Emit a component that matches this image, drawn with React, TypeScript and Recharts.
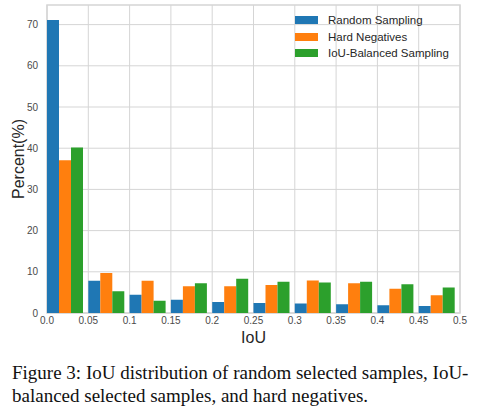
import React from "react";
import {
  BarChart,
  Bar,
  XAxis,
  YAxis,
  CartesianGrid,
  Legend,
  ReferenceArea,
} from "recharts";

// IoU bins (left edge of each 0.05-wide bin)
const binStarts = [0, 0.05, 0.1, 0.15, 0.2, 0.25, 0.3, 0.35, 0.4, 0.45];
const binNames = [
  "0.00-0.05",
  "0.05-0.10",
  "0.10-0.15",
  "0.15-0.20",
  "0.20-0.25",
  "0.25-0.30",
  "0.30-0.35",
  "0.35-0.40",
  "0.40-0.45",
  "0.45-0.50",
];

// percentages per bin
const randomSampling = [71.1, 7.8, 4.4, 3.2, 2.7, 2.4, 2.3, 2.1, 1.9, 1.7];
const hardNegatives = [37.1, 9.7, 7.8, 6.5, 6.5, 6.8, 7.9, 7.2, 5.9, 4.3];
const iouBalanced = [40.2, 5.3, 3.0, 7.2, 8.3, 7.6, 7.4, 7.6, 7.0, 6.2];

const xTicks = [0, 0.05, 0.1, 0.15, 0.2, 0.25, 0.3, 0.35, 0.4, 0.45, 0.5];
const xTickLabels = ["0.0", "0.05", "0.1", "0.15", "0.2", "0.25", "0.3", "0.35", "0.4", "0.45", "0.5"];
const yTicks = [0, 10, 20, 30, 40, 50, 60, 70];
const yMax = 74.76;

const seriesInfo = [
  { key: "random", name: "Random Sampling", color: "#1f77b4" },
  { key: "hard", name: "Hard Negatives", color: "#ff7f0e" },
  { key: "balanced", name: "IoU-Balanced Sampling", color: "#2ca02c" },
];

const data = binNames.map((name, i) => ({
  name,
  x: binStarts[i],
  random: randomSampling[i],
  hard: hardNegatives[i],
  balanced: iouBalanced[i],
}));

const FONT = '"Liberation Sans", Arial, sans-serif';
const GRID = "#d5d5d5";

// legend drawn as plain rows, like matplotlib's
const renderLegend = () => (
  <div style={{ fontFamily: FONT, fontSize: 11.5, color: "#262626" }}>
    {seriesInfo.map((s) => (
      <div
        key={s.key}
        style={{ display: "flex", alignItems: "center", height: 16.6 }}
      >
        <span
          style={{
            display: "inline-block",
            width: 23,
            height: 8,
            background: s.color,
            marginRight: 10,
          }}
        />
        <span>{s.name}</span>
      </div>
    ))}
  </div>
);

export default function App() {
  return (
    <div
      style={{
        position: "absolute",
        left: 0,
        top: 0,
        width: 487,
        height: 415,
        background: "#fff",
      }}
    >
      <BarChart
        width={487}
        height={350}
        data={data}
        margin={{ top: 5, right: 27, left: 17, bottom: 0 }}
        barGap={0}
        barCategoryGap={2.065}
      >
        <CartesianGrid
          xAxisId="iou"
          stroke={GRID}
          strokeWidth={1}
          verticalValues={xTicks}
          horizontalValues={yTicks}
        />
        {/* hidden band axis that places the grouped bars */}
        <XAxis
          xAxisId="bins"
          dataKey="name"
          type="category"
          orientation="top"
          height={0}
          hide
          padding={{ left: -2.065, right: 2.065 }}
        />
        <XAxis
          xAxisId="iou"
          dataKey="x"
          type="number"
          domain={[0, 0.5]}
          ticks={xTicks}
          allowDataOverflow
          height={37}
          axisLine={false}
          tickLine={false}
          tickSize={0}
          tickMargin={4}
          interval={0}
          tick={{ fill: "#4a4a4a", fontSize: 10, fontFamily: FONT }}
          tickFormatter={(v: number) => xTickLabels[xTicks.indexOf(v)] ?? String(v)}
          label={{
            content: ({ viewBox }: any) => (
              <text
                x={viewBox.x + viewBox.width / 2}
                y={343}
                textAnchor="middle"
                fontSize={16}
                fontFamily={FONT}
                fill="#262626"
              >
                IoU
              </text>
            ),
          }}
        />
        <YAxis
          width={30}
          domain={[0, yMax]}
          ticks={yTicks}
          allowDataOverflow
          axisLine={false}
          tickLine={false}
          tickSize={0}
          tickMargin={9}
          tick={{ fill: "#4a4a4a", fontSize: 10, fontFamily: FONT }}
          label={{
            content: ({ viewBox }: any) => {
              const cx = 18;
              const cy = viewBox.y + viewBox.height / 2;
              return (
                <text
                  x={cx}
                  y={cy}
                  transform={`rotate(-90, ${cx}, ${cy})`}
                  textAnchor="middle"
                  dominantBaseline="central"
                  fontSize={16}
                  fontFamily={FONT}
                  fill="#262626"
                >
                  Percent(%)
                </text>
              );
            },
          }}
        />
        {/* middle/center so the legend reserves no space from the plot */}
        <Legend
          content={renderLegend}
          layout="horizontal"
          verticalAlign="middle"
          align="center"
          wrapperStyle={{ position: "absolute", top: 12, left: 295, width: 180 }}
        />
        {seriesInfo.map((s) => (
          <Bar
            key={s.key}
            xAxisId="bins"
            dataKey={s.key}
            name={s.name}
            fill={s.color}
            isAnimationActive={false}
          />
        ))}
        {/* plot frame (seaborn whitegrid spines) */}
        <ReferenceArea
          xAxisId="iou"
          x1={0}
          x2={0.5}
          y1={0}
          y2={yMax}
          fill="none"
          stroke={GRID}
          strokeWidth={1.5}
          ifOverflow="visible"
        />
      </BarChart>

      <div
        style={{
          position: "absolute",
          left: 12,
          top: 362,
          fontFamily: '"Liberation Serif", "Times New Roman", serif',
          fontSize: 19,
          lineHeight: "22.5px",
          color: "#111",
          whiteSpace: "nowrap",
        }}
      >
        <div>Figure 3: IoU distribution of random selected samples, IoU-</div>
        <div>balanced selected samples, and hard negatives.</div>
      </div>
    </div>
  );
}
